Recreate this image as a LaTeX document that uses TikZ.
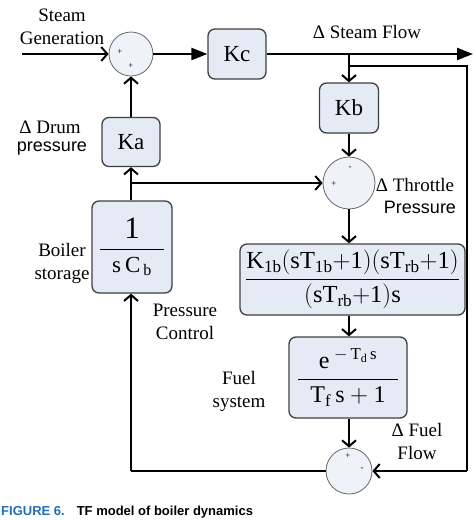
\documentclass[tikz,border=0pt]{standalone}
\usepackage{fontspec}
\setmainfont{Liberation Serif}
\newfontfamily\arialf{Liberation Sans}
\usetikzlibrary{arrows.meta}
\definecolor{boxfill}{HTML}{E4EBF5}
\definecolor{boxedge}{HTML}{404040}
\definecolor{capblue}{HTML}{1F6FB5}
\tikzset{
  blk/.style={draw=boxedge, fill=boxfill, rounded corners=7pt, line width=1.3pt, inner sep=0pt, font=\fontsize{23}{23}\selectfont},
  sumc/.style={circle, draw=gray!80!black, fill=boxfill!60!white, line width=0.8pt, inner sep=0pt},
  conn/.style={line width=2.4pt, black},
  arr/.style={conn, -{Straight Barb[length=6pt,width=14pt,line width=2pt]}},
  farr/.style={conn, -{Triangle[length=16pt,width=12pt]}},
  lbl/.style={font=\fontsize{19}{23}\selectfont, align=center, inner sep=0pt},
  sgn/.style={font=\fontsize{9}{9}\selectfont, inner sep=0pt},
}
\begin{document}
\begin{tikzpicture}[x=1pt,y=-1pt]
\useasboundingbox (0,0) rectangle (474,520);
% sums
\node[sumc, minimum size=44pt] (s1) at (131,54) {};
\node[sumc, minimum size=52pt] (s2) at (349,183) {};
\node[sumc, minimum size=46pt] (s3) at (349,471) {};
\node[sgn] (p1) at (120,52) {+};
\node[sgn] (p2) at (131,66) {+};
\node[sgn] (p3) at (350,168) {-};
\node[sgn] (p4) at (334,184) {+};
\node[sgn] (p5) at (348,456) {+};
\node[sgn] (p6) at (362,469) {-};
% blocks
\node[blk, minimum width=58pt, minimum height=50pt] (kc) at (237,54) {Kc};
\node[blk, minimum width=59pt, minimum height=50pt] (kb) at (349,108) {Kb};
\node[blk, minimum width=58pt, minimum height=49pt] (ka) at (131,142) {Ka};
\node[blk, minimum width=80pt, minimum height=92pt] (scb) at (132,247)
  {$\displaystyle\frac{\makebox[64pt]{\fontsize{31}{31}\selectfont 1\rule[-8pt]{0pt}{1pt}}}{\fontsize{27}{27}\selectfont\mathrm{s\,C}_{\,\mathrm{b}}}$};
\node[blk, minimum width=225pt, minimum height=71pt, font=\fontsize{24.5}{24.5}\selectfont] (tf1) at (352.5,279.5)
  {$\displaystyle\frac{\mathrm{K_{1b}(sT_{1b}{+}1)(sT_{rb}{+}1)}}{\mathrm{(sT_{rb}{+}1)s}}$};
\node[blk, minimum width=118pt, minimum height=81pt, font=\fontsize{24}{24}\selectfont] (tf2) at (348,377.5)
  {$\displaystyle\frac{\mathrm{e}^{\;\mathrm{-\,T_d\,s}}}{\makebox[100pt]{$\mathrm{T_f\,s}+\mathrm{1}$}}$};
% labels
\node[lbl] (lsg) at (62,27) {Steam\\Generation};
\node[lbl] (lsf) at (367,32) {Δ Steam Flow};
\node[lbl] (ldr) at (50,127) {Δ Drum};
\node[lbl, font=\arialf\fontsize{18}{22}\selectfont] (ldp) at (52,149) {pressure};
\node[lbl] (lbs) at (62,263) {Boiler\\storage};
\node[lbl] (lpc) at (185,322) {Pressure\\Control};
\node[lbl] (ltt) at (415,185) {Δ Throttle};
\node[lbl, font=\arialf\fontsize{18}{22}\selectfont] (ltp) at (420,207) {Pressure};
\node[lbl] (lfs) at (239,391) {Fuel\\system};
\node[lbl] (lff) at (417,441) {Δ Fuel\\Flow};
% coordinates
\coordinate (in) at (22,54);
\coordinate (out) at (473,54);
\coordinate (br) at (349,54);
\coordinate (fb1) at (349,66);
\coordinate (fb2) at (467,66);
\coordinate (fb3) at (467,471);
\coordinate (bl) at (131,471);
\coordinate (bp) at (131,183);
% connectors
\draw[arr] (in) -- (s1.west);
\draw[farr] (s1.east) -- (kc.west);
\draw[farr] (kc.east) -- (out);
\draw[arr] (br) -- (kb.north);
\draw[conn] (fb1) -- (fb2) -- (fb3);
\draw[arr] (fb3) -- (s3.east);
\draw[arr] (kb.south) -- (s2.north);
\draw[arr] (bp) -- (s2.west);
\draw[arr] (s2.south) -- (s2.south |- tf1.north);
\draw[arr] (tf1.south -| s2.south) -- (tf2.north -| s2.south);
\draw[arr] (tf2.south -| s3.north) -- (s3.north);
\draw[conn] (s3.west) -- (bl);
\draw[arr] (bl) -- (bl |- scb.south);
\draw[arr] (scb.north -| bp) -- (ka.south -| bp);
\draw[arr] (ka.north -| bp) -- (s1.south);
% caption
\node[anchor=base west, inner sep=0pt, font=\arialf\bfseries\fontsize{13}{13}\selectfont] (cap) at (1,515)
  {\textcolor{capblue}{FIGURE 6.}\hspace{12pt}TF model of boiler dynamics};
\end{tikzpicture}
\end{document}
